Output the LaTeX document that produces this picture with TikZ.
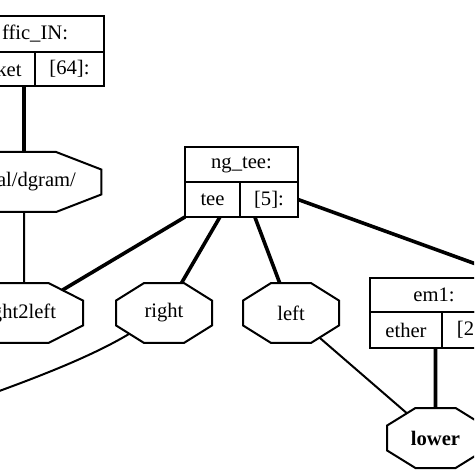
\documentclass[tikz,border=0pt]{standalone}
\usepackage{fontspec}
\usepackage{graphicx}
\setmainfont{Liberation Serif}
\usetikzlibrary{positioning, shapes.geometric}

\tikzset{
  cell/.style={draw, line width=1pt, inner sep=0pt, outer sep=0pt, minimum height=17.5pt},
  octa/.style={regular polygon, regular polygon sides=8,
    draw, line width=1pt, inner sep=0pt, outer sep=0pt, minimum size=32.47pt},
  link/.style={line width=1pt},
  heavy/.style={line width=1.8pt},
}

\begin{document}
\begin{tikzpicture}[x=0.5pt, y=-0.5pt, font=\fontsize{10.3}{12}\selectfont]
  \useasboundingbox (0,0) rectangle (474,474);
  \clip (0,0) rectangle (474,474);

  % records
  \node[cell, anchor=north west, minimum width=69pt, minimum height=18pt] (traffic) at (-34,16) {ffic\_IN:};
  \node[cell, anchor=north east, minimum width=34.5pt, minimum height=17pt] (p64) at (traffic.south east) {[64]:};
  \node[cell, anchor=north east, minimum width=26pt, minimum height=17pt] (ket) at (p64.north west) {ket};

  \node[cell, anchor=north west, minimum width=56.5pt] (ngtee) at (185,147) {ng\_tee:};
  \node[cell, anchor=north west, minimum width=27.5pt] (tee) at (ngtee.south west) {tee};
  \node[cell, anchor=north east, minimum width=29pt] (p5) at (ngtee.south east) {[5]:};

  \node[cell, anchor=north west, minimum width=64pt, minimum height=17pt] (em1) at (370,278) {em1:};
  \node[cell, anchor=north west, minimum width=36pt, minimum height=18pt] (ether) at (em1.south west) {ether};
  \node[cell, anchor=north west, minimum width=28pt, minimum height=18pt] (p2) at (ether.north east) {[2\hspace*{4.5pt}};

  % octagons (stretched sideways, text squeezed back)
  \node[octa, xscale=2.583] (dgram) at (24,182) {\scalebox{.387}[1]{\hspace*{12.5pt}al/dgram/}};
  \node[octa, xscale=1.967] (r2l) at (24,313) {\scalebox{.508}[1]{ght2left}};
  \node[octa, xscale=1.6] (right) at (164,313) {\scalebox{.625}[1]{right}};
  \node[octa, xscale=1.6] (left) at (291,313) {\scalebox{.625}[1]{left}};
  \node[octa, xscale=1.617] (lower) at (435.5,438) {\scalebox{.619}[1]{\bfseries lower}};

  \coordinate (offr) at (520,280);
  \coordinate (offl) at (-20,398);

  % edges
  \draw[heavy] (ket.south -| dgram) -- (dgram);
  \draw[link] (dgram) -- (r2l);
  \draw[heavy] (tee.south west) -- (r2l);
  \draw[heavy] (tee.-67) -- (right);
  \draw[heavy] (p5.231) -- (left);
  \draw[heavy] (p5.east) -- (offr);
  \draw[link] (right) .. controls +(-75,45) and +(50,-18) .. (offl);
  \draw[link] (left) -- (lower);
  \draw[heavy] (ether.south -| lower) -- (lower);
\end{tikzpicture}
\end{document}
